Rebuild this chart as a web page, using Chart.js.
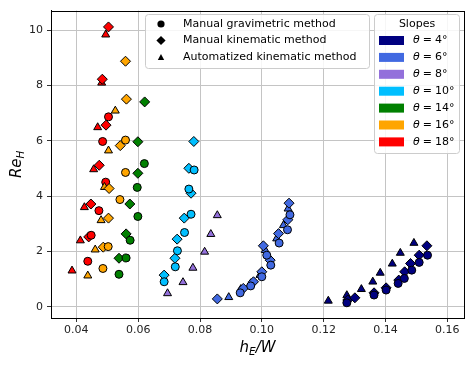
<!DOCTYPE html>
<html>
<head>
<meta charset="utf-8">
<script src="https://cdn.jsdelivr.net/npm/chart.js@4/dist/chart.umd.min.js"></script>
<style>
    html, body { margin: 0; padding: 0; background: #ffffff; }
</style>
</head>
<body>
<canvas id="reChart" width="474" height="365"></canvas>
<script>
// axis ticks
const xTicks = [0.04, 0.06, 0.08, 0.10, 0.12, 0.14, 0.16];
const yTicks = [0, 2, 4, 6, 8, 10];

// slopes legend
const slopeAngles = [4, 6, 8, 10, 14, 16, 18];
const slopeColors = ["#000080", "#4169e1", "#9370db", "#00bfff", "#008000", "#ffa500", "#ff0000"];

// methods legend
const methodLabels = ["Manual gravimetric method", "Manual kinematic method", "Automatized kinematic method"];

// [hE/W, ReH] per slope and method
const grav4 = [[0.1275, 0.15], [0.1363, 0.43], [0.1402, 0.61], [0.1441, 0.85], [0.1461, 1.03], [0.1485, 1.33], [0.1509, 1.61], [0.1536, 1.87]];
const kin4 = [[0.1278, 0.25], [0.1301, 0.33], [0.1363, 0.51], [0.1402, 0.69], [0.1443, 0.97], [0.1462, 1.27], [0.1481, 1.57], [0.1509, 1.87], [0.1534, 2.21]];
const auto4 = [[0.1215, 0.22], [0.1275, 0.42], [0.1322, 0.64], [0.1359, 0.91], [0.1383, 1.23], [0.1422, 1.56], [0.1448, 1.95], [0.1492, 2.31]];

const grav6 = [[0.0930, 0.51], [0.0964, 0.76], [0.1000, 1.09], [0.1029, 1.51], [0.1016, 1.87], [0.1056, 2.31], [0.1083, 2.79], [0.1091, 3.33]];
const kin6 = [[0.0856, 0.29], [0.0940, 0.67], [0.0973, 0.91], [0.1000, 1.27], [0.1027, 1.69], [0.1005, 2.21], [0.1054, 2.65], [0.1084, 3.15], [0.1088, 3.75]];
const auto6 = [[0.0893, 0.35], [0.0932, 0.64], [0.0964, 0.85], [0.0994, 1.15], [0.1011, 2.05], [0.1048, 2.47], [0.1070, 2.95], [0.1085, 3.55]];

const auto8 = [[0.0695, 0.49], [0.0745, 0.89], [0.0777, 1.41], [0.0815, 1.99], [0.0835, 2.63], [0.0856, 3.31]];

const grav10 = [[0.0684, 0.91], [0.0720, 1.45], [0.0727, 2.03], [0.0750, 2.69], [0.0771, 3.35], [0.0764, 4.26], [0.0781, 4.95]];
const kin10 = [[0.0684, 1.15], [0.0719, 1.76], [0.0726, 2.45], [0.0749, 3.21], [0.0771, 4.11], [0.0764, 5.01], [0.0780, 5.98]];

const grav14 = [[0.0538, 1.18], [0.0561, 1.77], [0.0574, 2.41], [0.0599, 3.27], [0.0597, 4.32], [0.0620, 5.18]];
const kin14 = [[0.0538, 1.76], [0.0561, 2.64], [0.0573, 3.72], [0.0599, 4.83], [0.0599, 5.97], [0.0621, 7.41]];

const grav16 = [[0.0486, 1.39], [0.0503, 2.18], [0.0541, 3.88], [0.0559, 4.86], [0.0559, 6.03]];
const kin16 = [[0.0487, 2.16], [0.0504, 3.21], [0.0506, 4.28], [0.0542, 5.83], [0.0562, 7.51], [0.0559, 8.88]];
const auto16 = [[0.0437, 1.13], [0.0461, 2.07], [0.0480, 3.13], [0.0491, 4.33], [0.0504, 5.65], [0.0526, 7.09]];

const grav18 = [[0.0437, 1.65], [0.0448, 2.59], [0.0473, 3.48], [0.0495, 4.51], [0.0485, 5.98], [0.0504, 6.87]];
const kin18 = [[0.0440, 2.53], [0.0447, 3.72], [0.0474, 5.12], [0.0496, 6.57], [0.0484, 8.23], [0.0504, 10.12]];
const auto18 = [[0.0386, 1.31], [0.0413, 2.40], [0.0426, 3.60], [0.0456, 4.97], [0.0469, 6.49], [0.0482, 8.10], [0.0495, 9.84]];

const gravBySlope = [grav4, grav6, [], grav10, grav14, grav16, grav18];
const kinBySlope = [kin4, kin6, [], kin10, kin14, kin16, kin18];
const autoBySlope = [auto4, auto6, auto8, [], [], auto16, auto18];

function toPoints(arr) {
    return arr.map(function (p) { return { x: p[0], y: p[1] }; });
}

function makeSet(arr, color, style, radius) {
    return {
        data: toPoints(arr),
        backgroundColor: color,
        borderColor: "#000000",
        borderWidth: 1,
        pointStyle: style,
        pointRadius: radius,
        pointHoverRadius: radius
    };
}

let datasets = [];
for (let i = 0; i < slopeAngles.length; i++) {
    if (gravBySlope[i].length) datasets.push(makeSet(gravBySlope[i], slopeColors[i], "circle", 4));
    if (kinBySlope[i].length) datasets.push(makeSet(kinBySlope[i], slopeColors[i], "rectRot", 5));
    if (autoBySlope[i].length) datasets.push(makeSet(autoBySlope[i], slopeColors[i], "triangle", 4.6));
}

const FONT = "'DejaVu Sans', sans-serif";

function drawMarker(ctx, style, x, y) {
    ctx.fillStyle = "#000000";
    ctx.beginPath();
    if (style === "circle") {
        ctx.arc(x, y, 3.6, 0, Math.PI * 2);
    } else if (style === "diamond") {
        ctx.moveTo(x, y - 4.6);
        ctx.lineTo(x + 4.6, y);
        ctx.lineTo(x, y + 4.6);
        ctx.lineTo(x - 4.6, y);
        ctx.closePath();
    } else {
        ctx.moveTo(x, y - 3.4);
        ctx.lineTo(x + 3.2, y + 2.6);
        ctx.lineTo(x - 3.2, y + 2.6);
        ctx.closePath();
    }
    ctx.fill();
}

function legendFrame(ctx, x, y, w, h) {
    ctx.beginPath();
    ctx.roundRect(x, y, w, h, 3);
    ctx.fillStyle = "rgba(255,255,255,0.85)";
    ctx.fill();
    ctx.strokeStyle = "#cccccc";
    ctx.lineWidth = 1;
    ctx.stroke();
}

const framePlugin = {
    id: "frameAndLegends",
    afterDatasetsDraw(chart) {
        const ctx = chart.ctx;
        const a = chart.chartArea;
        ctx.save();
        ctx.strokeStyle = "#000000";
        ctx.lineWidth = 1;
        ctx.strokeRect(Math.round(a.left) + 0.5, Math.round(a.top) + 0.5, Math.round(a.right - a.left), Math.round(a.bottom - a.top));

        // methods legend
        legendFrame(ctx, 145.5, 14.5, 224, 54);
        const styles = ["circle", "diamond", "triangle"];
        const rowsY = [24, 40.5, 57.5];
        ctx.font = "11px " + FONT;
        ctx.textBaseline = "middle";
        for (let i = 0; i < 3; i++) {
            drawMarker(ctx, styles[i], 161, rowsY[i]);
            ctx.fillStyle = "#000000";
            ctx.fillText(methodLabels[i], 183, rowsY[i]);
        }

        // slopes legend
        legendFrame(ctx, 374.5, 14.5, 85, 139);
        ctx.textAlign = "center";
        ctx.fillStyle = "#000000";
        ctx.fillText("Slopes", 417, 24.5);
        ctx.textAlign = "left";
        for (let i = 0; i < slopeAngles.length; i++) {
            const cy = 40.5 + i * 16.9;
            ctx.fillStyle = slopeColors[i];
            ctx.fillRect(379, cy - 4.5, 25, 9);
            ctx.fillStyle = "#000000";
            ctx.font = "italic 11px " + FONT;
            ctx.fillText("\u03b8", 413, cy);
            let tx = 413 + ctx.measureText("\u03b8").width + 3;
            ctx.font = "11px " + FONT;
            ctx.fillText("=", tx, cy);
            tx += ctx.measureText("=").width + 3;
            ctx.fillText(slopeAngles[i] + "\u00b0", tx, cy);
        }

        // axis titles with subscripts
        ctx.fillStyle = "#000000";
        ctx.textBaseline = "alphabetic";
        const mainF = "italic 15px " + FONT;
        const subF = "italic 10.5px " + FONT;
        ctx.font = mainF;
        const wh = ctx.measureText("h").width;
        const wW = ctx.measureText("/W").width;
        ctx.font = subF;
        const wE = ctx.measureText("E").width;
        let xl = (a.left + a.right) / 2 - (wh + wE + wW) / 2;
        const base = 352;
        ctx.font = mainF;
        ctx.fillText("h", xl, base);
        ctx.font = subF;
        ctx.fillText("E", xl + wh, base + 3);
        ctx.font = mainF;
        ctx.fillText("/W", xl + wh + wE, base);

        ctx.save();
        ctx.translate(21, (a.top + a.bottom) / 2);
        ctx.rotate(-Math.PI / 2);
        ctx.font = mainF;
        const wRe = ctx.measureText("Re").width;
        ctx.font = subF;
        const wH = ctx.measureText("H").width;
        const x0 = -(wRe + wH) / 2;
        ctx.font = mainF;
        ctx.fillText("Re", x0, 0);
        ctx.font = subF;
        ctx.fillText("H", x0 + wRe, 3);
        ctx.restore();

        ctx.restore();
    }
};

const ReChart = new Chart(document.getElementById("reChart"), {
    type: "scatter",
    data: { datasets: datasets },
    options: {
        responsive: false,
        animation: false,
        devicePixelRatio: 1,
        layout: { padding: { top: 9, right: 10, left: 0, bottom: 0 } },
        plugins: {
            legend: { display: false },
            tooltip: { enabled: false }
        },
        scales: {
            x: {
                type: "linear",
                min: 0.0318,
                max: 0.1654,
                afterFit: function (scale) { scale.height = 47; },
                afterBuildTicks: function (scale) {
                    scale.ticks = xTicks.map(function (v) { return { value: v }; });
                },
                ticks: {
                    color: "#222222",
                    padding: 2,
                    maxRotation: 0,
                    font: { family: FONT, size: 11 },
                    callback: function (value) { return value.toFixed(2); }
                },
                grid: { color: "#c4c4c4", tickColor: "#333333", tickLength: 4, lineWidth: 1 },
                border: { display: true, color: "#000000" }
            },
            y: {
                type: "linear",
                min: -0.4,
                max: 10.71,
                afterFit: function (scale) { scale.width = 51; },
                afterBuildTicks: function (scale) {
                    scale.ticks = yTicks.map(function (v) { return { value: v }; });
                },
                ticks: {
                    color: "#222222",
                    padding: 4,
                    font: { family: FONT, size: 11 },
                    callback: function (value) { return String(value); }
                },
                grid: { color: "#c4c4c4", tickColor: "#333333", tickLength: 4, lineWidth: 1 },
                border: { display: true, color: "#000000" }
            }
        }
    },
    plugins: [framePlugin]
});
</script>
</body>
</html>
